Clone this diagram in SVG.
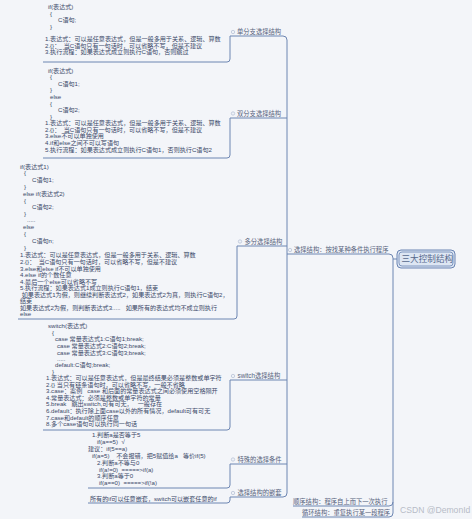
<svg xmlns="http://www.w3.org/2000/svg" width="474" height="519" viewBox="0 0 474 519">
<style>
text{font-family:"Liberation Sans","Noto Sans CJK SC",sans-serif;white-space:pre}
.t{font-size:6.1px;fill:#3a4868}
.l{font-size:6.3px;fill:#56627c}
.r{font-size:8.6px;fill:#56688c}
.c{fill:none;stroke:#6d86b2;stroke-width:1}
.ic{fill:#eef2f8;stroke:#a9b6cc;stroke-width:0.6}
.wm{font-size:8.6px;fill:#b7bcc7}
</style>
<rect x="0" y="0" width="474" height="519" fill="#ffffff"/>
<rect x="0" y="0" width="472" height="519" fill="#f3f5f9"/>

<g id="connectors">
  <path class="c" d="M397 259 H393"/>
  <path class="c" d="M287 254 H389 Q393 254 393 258 V513 Q393 517 389 517 H302"/>
  <path class="c" d="M393 502 Q393 506 389 506 H293"/>
  <path class="c" d="M230 36 H283 Q287 36 287 40 V493 Q287 497 283 497 H230"/>
  <path class="c" d="M230 118 H287"/>
  <path class="c" d="M237 246 H287"/>
  <path class="c" d="M230 380 H287"/>
  <path class="c" d="M230 464 H287"/>
  <path class="c" d="M230 36 V59 Q230 62 227 62 H43"/>
  <path class="c" d="M230 118 V155 Q230 158 227 158 H43"/>
  <path class="c" d="M237 246 V316 Q237 319 234 319 H18"/>
  <path class="c" d="M230 380 V427 Q230 430 227 430 H43"/>
  <path class="c" d="M230 464 V485 Q230 488 227 488 H88"/>
  <path class="c" d="M230 497 V500 Q230 503 227 503 H88"/>
</g>

<g id="root">
  <rect x="397" y="250" width="58" height="18" rx="4" fill="#dde6f3" stroke="#6a84b3" stroke-width="1"/>
  <rect x="399" y="252" width="54" height="14" rx="3" fill="none" stroke="#6a84b3" stroke-width="0.8"/>
  <text class="r" x="401.5" y="262.3">三大控制结构</text>
</g>

<g id="selection">
  <circle class="ic" cx="290" cy="250" r="1.7"/>
  <text class="l" x="294" y="252.3">选择结构：按找某种条件执行程序</text>
</g>
<g id="sequence">
  <text class="l" x="293" y="504">顺序结构：程序自上而下一次执行</text>
</g>
<g id="loop">
  <text class="l" x="302" y="515">循环结构：重复执行某一段程序</text>
</g>

<g id="single">
  <circle class="ic" cx="233" cy="32" r="1.7"/>
  <text class="l" x="237" y="34.3">单分支选择结构</text>
</g>
<g id="double">
  <circle class="ic" cx="233" cy="113.5" r="1.7"/>
  <text class="l" x="237" y="115.8">双分支选择结构</text>
</g>
<g id="multi">
  <circle class="ic" cx="240" cy="241.5" r="1.7"/>
  <text class="l" x="244.5" y="243.8">多分选择结构</text>
</g>
<g id="switch">
  <circle class="ic" cx="233" cy="376" r="1.7"/>
  <text class="l" x="237.5" y="378.3">switch选择结构</text>
</g>
<g id="special">
  <circle class="ic" cx="233" cy="459.5" r="1.7"/>
  <text class="l" x="237.5" y="461.8">特殊的选择条件</text>
</g>
<g id="nesting">
  <circle class="ic" cx="233" cy="493" r="1.7"/>
  <text class="l" x="237.5" y="495.3">选择结构的嵌套</text>
</g>

<g id="leaf-single">
  <text class="t" x="48" y="9">if(表达式)</text>
  <text class="t" x="50" y="15.5">{</text>
  <text class="t" x="58" y="22">C语句;</text>
  <text class="t" x="50" y="28.5">}</text>
  <text class="t" x="45" y="41">1.表达式：可以是任意表达式，但是一般多用于关系、逻辑、算数</text>
  <text class="t" x="45" y="47.5">2.{}：  当C语句只有一句话时，可以省略不写，但是不建议</text>
  <text class="t" x="45" y="54">3.执行流程：如果表达式成立则执行C语句，否则跳过</text>
</g>

<g id="leaf-double">
  <text class="t" x="48" y="72.5">if(表达式)</text>
  <text class="t" x="50" y="79">{</text>
  <text class="t" x="58" y="85.5">C语句1;</text>
  <text class="t" x="50" y="92">}</text>
  <text class="t" x="50" y="99">else</text>
  <text class="t" x="50" y="105.5">{</text>
  <text class="t" x="58" y="112">C语句2;</text>
  <text class="t" x="50" y="118.5">}</text>
  <text class="t" x="45" y="125">1.表达式：可以是任意表达式，但是一般多用于关系、逻辑、算数</text>
  <text class="t" x="45" y="131.5">2.{}：  当C语句只有一句话时，可以省略不写，但是不建议</text>
  <text class="t" x="45" y="138">3.else不可以单独使用</text>
  <text class="t" x="45" y="144.5">4.if和else之间不可以写语句</text>
  <text class="t" x="45" y="152">5.执行流程：如果表达式成立则执行C语句1，否则执行C语句2</text>
</g>

<g id="leaf-multi">
  <text class="t" x="20" y="168.5">if(表达式1)</text>
  <text class="t" x="24" y="175">{</text>
  <text class="t" x="32" y="182">C语句1;</text>
  <text class="t" x="24" y="188.5">}</text>
  <text class="t" x="23" y="196">else if(表达式2)</text>
  <text class="t" x="24" y="202.5">{</text>
  <text class="t" x="32" y="209">C语句2;</text>
  <text class="t" x="24" y="215.5">}</text>
  <text class="t" x="27" y="221.5">.....</text>
  <text class="t" x="23" y="229">else</text>
  <text class="t" x="24" y="235.5">{</text>
  <text class="t" x="32" y="243">C语句n;</text>
  <text class="t" x="24" y="249.5">}</text>
  <text class="t" x="20" y="256.5">1.表达式：可以是任意表达式，但是一般多用于关系、逻辑、算数</text>
  <text class="t" x="20" y="264">2.{}：  当C语句只有一句话时，可以省略不写，但是不建议</text>
  <text class="t" x="20" y="270.5">3.else和else if不可以单独使用</text>
  <text class="t" x="20" y="277">4.else if的个数任意</text>
  <text class="t" x="20" y="283.5">4.最后一个else可以省略不写</text>
  <text class="t" x="20" y="290">5.执行流程：如果表达式1成立则执行C语句1，结束</text>
  <text class="t" x="20" y="296.5"> 如果表达式1为假，则继续判断表达式2，如果表达式2为真，则执行C语句2，</text>
  <text class="t" x="20" y="303">结束</text>
  <text class="t" x="20" y="309.5">如果表达式2为假，则判断表达式3.....   如果所有的表达式均不成立则执行</text>
  <text class="t" x="20" y="316">else</text>
</g>

<g id="leaf-switch">
  <text class="t" x="48" y="328">switch(表达式)</text>
  <text class="t" x="52" y="334.5">{</text>
  <text class="t" x="55" y="341">case 常量表达式1:C语句1;break;</text>
  <text class="t" x="57" y="348">case 常量表达式2:C语句2;break;</text>
  <text class="t" x="57" y="354.5">case 常量表达式3:C语句3;break;</text>
  <text class="t" x="57" y="360.5">.....</text>
  <text class="t" x="55" y="367">default:C语句;break;</text>
  <text class="t" x="52" y="373.5">}</text>
  <text class="t" x="46" y="380">1.表达式：可以是任意表达式，但是最终结果必须是整数或单字符</text>
  <text class="t" x="46" y="386.5">2.{} 当只有链条语句时，可以省略不写，一般不省略</text>
  <text class="t" x="46" y="393">3.case：案例   case 和后面的常量表达式之间必须使用空格隔开</text>
  <text class="t" x="46" y="399.5">4.常量表达式：必须是整数或单字符的常量</text>
  <text class="t" x="46" y="406">5.break   跳出switch,可有可无，   一般存在</text>
  <text class="t" x="46" y="413">6.default：执行除上面case以外的所有情况，default可有可无</text>
  <text class="t" x="46" y="419.5">7.case和default的顺序任意</text>
  <text class="t" x="46" y="426">8.多个case语句可以执行同一句话</text>
</g>

<g id="leaf-special">
  <text class="t" x="92" y="437">1.判断a是否等于5</text>
  <text class="t" x="97" y="444">if(a==5)  √</text>
  <text class="t" x="88" y="450.5">建议：if(5==a)</text>
  <text class="t" x="92" y="457.5">if(a=5)    不会报错，把5赋值给a   等价if(5)</text>
  <text class="t" x="97" y="464.5">2.判断a不等与0</text>
  <text class="t" x="99" y="471.5">if(a!=0)  =====&gt;if(a)</text>
  <text class="t" x="97" y="478">3.判断a等于0</text>
  <text class="t" x="99" y="485">if(a==0)  =====&gt;if(!a)</text>
</g>

<g id="leaf-nesting">
  <text class="t" x="90" y="501">所有的if可以任意嵌套，switch可以嵌套任意的if</text>
</g>

<text class="wm" x="400" y="513">CSDN @DemonId</text>
</svg>
